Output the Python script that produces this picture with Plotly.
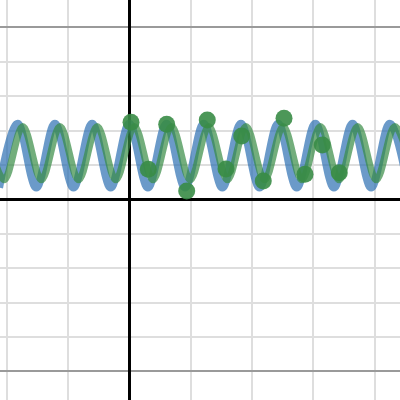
import plotly.graph_objects as go

# blue curve: turning points (troughs and peaks alternate)
blue_x = [-2.121, -1.818, -1.515, -1.212, -0.909, -0.606, -0.303, 0.0, 0.303, 0.606,
          0.909, 1.212, 1.515, 1.818, 2.121, 2.424, 2.727, 3.030, 3.333, 3.636,
          3.939, 4.242, 4.545]
blue_y = [0.34, 2.20, 0.34, 2.20, 0.34, 2.20, 0.34, 2.20, 0.34, 2.20,
          0.34, 2.20, 0.34, 2.20, 0.34, 2.20, 0.34, 2.20, 0.34, 2.20,
          0.34, 2.20, 0.34]

# green (fitted) curve, lags the blue one a little
green_x = [-2.341, -2.038, -1.735, -1.432, -1.129, -0.826, -0.523, -0.220, 0.083, 0.386,
           0.689, 0.992, 1.295, 1.598, 1.901, 2.204, 2.507, 2.810, 3.113, 3.416,
           3.719, 4.022, 4.325, 4.628]
green_y = [2.12, 0.57, 2.12, 0.57, 2.12, 0.57, 2.12, 0.57, 2.12, 0.57,
           2.12, 0.57, 2.12, 0.57, 2.12, 0.57, 2.12, 0.57, 2.12, 0.57,
           2.12, 0.57, 2.12, 0.57]

# sample points
pts_x = [0.028, 0.309, 0.609, 0.935, 1.270, 1.575, 1.831, 2.182, 2.520, 2.862, 3.143, 3.420]
pts_y = [2.238, 0.872, 2.180, 0.241, 2.305, 0.881, 1.840, 0.532, 2.355, 0.727, 1.578, 0.773]

fig = go.Figure()

fig.add_trace(go.Scatter(
    x=blue_x, y=blue_y, mode="lines",
    line=dict(color="#2d70b3", width=8, shape="spline"),
    opacity=0.7, hoverinfo="skip"
))
fig.add_trace(go.Scatter(
    x=green_x, y=green_y, mode="lines",
    line=dict(color="#388c46", width=7, shape="spline"),
    opacity=0.7, hoverinfo="skip"
))
fig.add_trace(go.Scatter(
    x=pts_x, y=pts_y, mode="markers",
    marker=dict(color="#388c46", size=17, opacity=0.9, line=dict(width=0))
))

axis_common = dict(
    showticklabels=False, ticks="", showline=False,
    tick0=0, dtick=5, showgrid=True, gridcolor="#9a9a9a", gridwidth=2,
    minor=dict(dtick=1, showgrid=True, gridcolor="#dedede", gridwidth=2),
    zeroline=True, zerolinecolor="#000000", zerolinewidth=3,
    fixedrange=True
)

fig.update_layout(
    width=400, height=400,
    margin=dict(l=0, r=0, t=0, b=0),
    paper_bgcolor="white", plot_bgcolor="white",
    showlegend=False,
    xaxis=dict(range=[-2.106, 4.409], **axis_common),
    yaxis=dict(range=[-5.834, 5.794], **axis_common),
)

# page body has a default 8px margin; drop it so the chart fills the window
fig.write_html(
    "out.html",
    config={"displayModeBar": False},
    post_script="document.body.style.margin='0';document.body.style.overflow='hidden';",
)
